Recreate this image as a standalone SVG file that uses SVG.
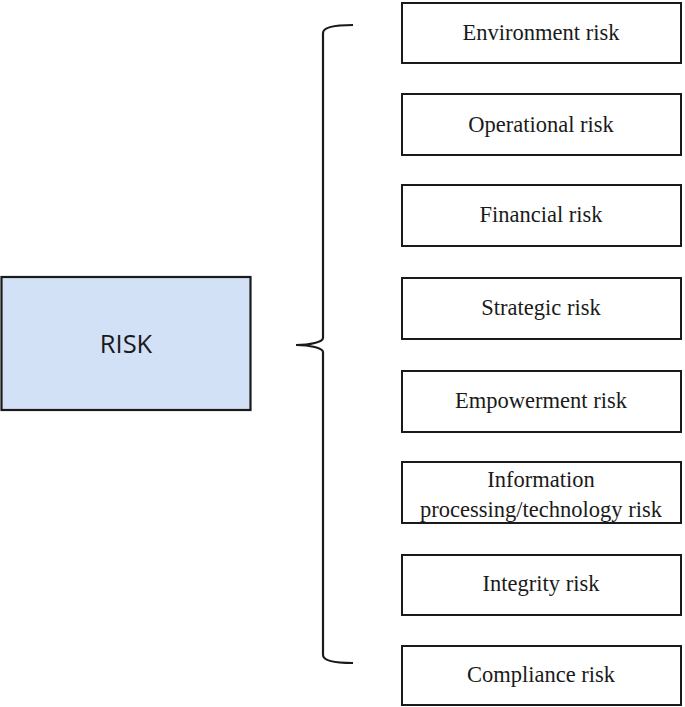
<svg xmlns="http://www.w3.org/2000/svg" width="685" height="707" viewBox="0 0 685 707">
<style>
.box{fill:#fff;stroke:#1a1a1a;stroke-width:2}
.t{font-family:"Liberation Serif",serif;font-size:22.5px;fill:#1a1a1a;text-anchor:middle}
.conn{fill:none;stroke:#1a1a1a;stroke-width:2.2}
</style>
<rect width="685" height="707" fill="#fff"/>
<g id="risk"><rect x="1.5" y="277" width="249" height="133" fill="#d2e1f6" stroke="#1a1a1a" stroke-width="2.2"/><text x="126" y="353" font-family="Open Sans, sans-serif" font-size="25.5" fill="#1a1a1a" text-anchor="middle">RISK</text></g>
<g id="connectors"><path class="conn" d="M353,25 C335,25 323,27 323,33 L323,338 C323,342 310,345 296,345 C310,345 323,348 323,352 L323,655 C323,661 335,663 353,663"/></g>
<g id="n1"><rect class="box" x="402" y="3" width="279" height="60"/><text class="t" x="541" y="40">Environment risk</text></g>
<g id="n2"><rect class="box" x="402" y="94" width="279" height="61"/><text class="t" x="541" y="132">Operational risk</text></g>
<g id="n3"><rect class="box" x="402" y="185" width="279" height="61"/><text class="t" x="541" y="222">Financial risk</text></g>
<g id="n4"><rect class="box" x="402" y="278" width="279" height="61"/><text class="t" x="541" y="315">Strategic risk</text></g>
<g id="n5"><rect class="box" x="402" y="371" width="279" height="61"/><text class="t" x="541" y="408">Empowerment risk</text></g>
<g id="n6"><rect class="box" x="402" y="462" width="279" height="61"/><text class="t" x="541" y="487">Information</text><text class="t" x="541" y="517">processing/technology risk</text></g>
<g id="n7"><rect class="box" x="402" y="555" width="279" height="60"/><text class="t" x="541" y="591">Integrity risk</text></g>
<g id="n8"><rect class="box" x="402" y="646" width="279" height="59"/><text class="t" x="541" y="682">Compliance risk</text></g>
</svg>
